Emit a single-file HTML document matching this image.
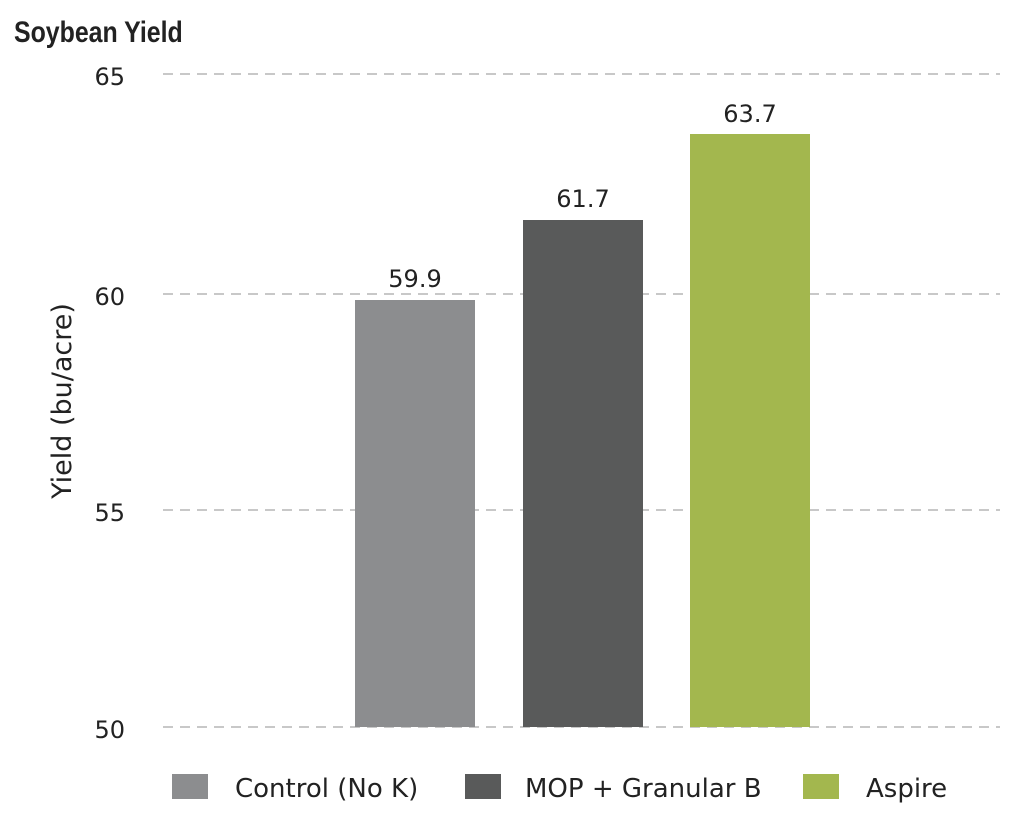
<!DOCTYPE html>
<html><head><style>
body{margin:0;background:#fff;width:1024px;height:818px;overflow:hidden;font-family:"DejaVu Sans","Liberation Sans",sans-serif;}
</style></head><body>
<svg width="1024" height="818" xmlns="http://www.w3.org/2000/svg">
<text x="0" y="42" font-family="Liberation Sans, sans-serif" font-weight="bold" font-size="30" fill="#222" transform="translate(14 0) scale(0.83 1)">Soybean Yield</text>
<g stroke="#c8c8c8" stroke-width="2" stroke-dasharray="10 7">
<line x1="163" y1="74" x2="1000" y2="74"/>
<line x1="163" y1="294" x2="1000" y2="294"/>
<line x1="163" y1="510" x2="1000" y2="510"/>
<line x1="163" y1="727" x2="1000" y2="727"/>
</g>
<g font-size="24" fill="#222" text-anchor="end">
<text x="125" y="85">65</text>
<text x="125" y="305">60</text>
<text x="125" y="521">55</text>
<text x="125" y="738">50</text>
</g>
<text transform="translate(71 401) rotate(-90)" font-size="27" fill="#222" text-anchor="middle">Yield (bu/acre)</text>
<rect x="355" y="300" width="120" height="427" fill="#8c8d8f"/>
<rect x="523" y="220" width="120" height="507" fill="#595a5a"/>
<rect x="690" y="134" width="120" height="593" fill="#a3b74e"/>
<g font-size="24" fill="#222" text-anchor="middle">
<text x="415" y="287">59.9</text>
<text x="583" y="207">61.7</text>
<text x="750" y="122">63.7</text>
</g>
<rect x="172" y="774" width="36" height="25" fill="#8c8d8f"/>
<rect x="465" y="774" width="36" height="25" fill="#595a5a"/>
<rect x="803" y="774" width="36" height="25" fill="#a3b74e"/>
<g font-size="26" fill="#222">
<text x="235" y="797">Control (No K)</text>
<text x="525" y="797">MOP + Granular B</text>
<text x="866" y="797">Aspire</text>
</g>
</svg>
</body></html>
